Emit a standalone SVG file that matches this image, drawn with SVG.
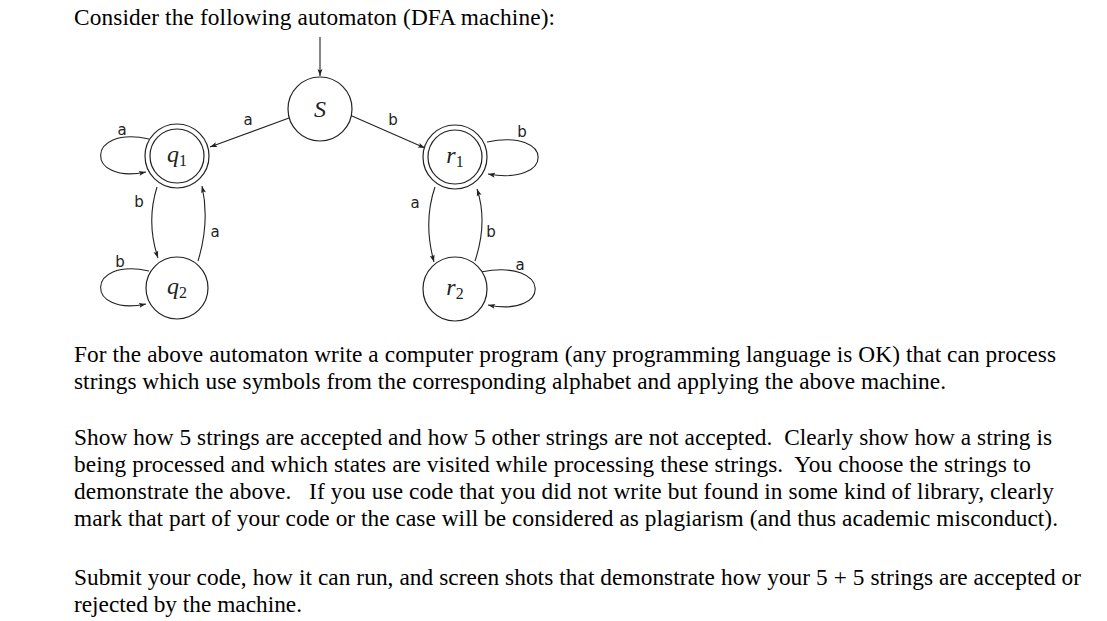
<svg xmlns="http://www.w3.org/2000/svg" width="1107" height="621" viewBox="0 0 1107 621">
<style>
.bg{fill:#fff}
.st{fill:#fff;stroke:#222;stroke-width:1.2}
.ed{fill:none;stroke:#222;stroke-width:1.1}
.lb{font-family:"DejaVu Sans",sans-serif;font-size:15px;fill:#222;text-anchor:middle}
.sn{font-family:"Liberation Serif",serif;font-style:italic;font-size:24px;fill:#222;text-anchor:middle}
.sub{font-style:normal;font-size:16px}
.tx{font-family:"Liberation Serif","Times New Roman",serif;font-size:23.3px;fill:#000;white-space:pre}
</style>
<defs>
<marker id="ah" viewBox="0 0 10 10" refX="10" refY="5" markerWidth="9" markerHeight="7" orient="auto" markerUnits="userSpaceOnUse">
<path d="M0,1.5 L10,5 L0,8.5 L2,5 Z" fill="#222"/>
</marker>
</defs>
<rect class="bg" x="0" y="0" width="1107" height="621"/>
<g id="connectors">
<line class="ed" x1="320" y1="37" x2="320" y2="76" marker-end="url(#ah)"/>
<line class="ed" x1="289" y1="118" x2="210" y2="147" marker-end="url(#ah)"/>
<line class="ed" x1="352" y1="116" x2="425" y2="148" marker-end="url(#ah)"/>
<path class="ed" d="M149,139 C85,125 85,185 146,172" marker-end="url(#ah)"/>
<path class="ed" d="M149,271 C85,257 85,317 146,304" marker-end="url(#ah)"/>
<path class="ed" d="M157,187 Q146,222 158,258" marker-end="url(#ah)"/>
<path class="ed" d="M198,261 Q210,222 202,186" marker-end="url(#ah)"/>
<path class="ed" d="M487,142 C555,128 555,186 488,174" marker-end="url(#ah)"/>
<path class="ed" d="M481,272 C552,258 552,318 488,305" marker-end="url(#ah)"/>
<path class="ed" d="M435,187 Q423,222 434,262" marker-end="url(#ah)"/>
<path class="ed" d="M475,261 Q488,222 477,189" marker-end="url(#ah)"/>
<text class="lb" x="248" y="125">a</text>
<text class="lb" x="393" y="125">b</text>
<text class="lb" x="122" y="135">a</text>
<text class="lb" x="120" y="267">b</text>
<text class="lb" x="139" y="207">b</text>
<text class="lb" x="215" y="237">a</text>
<text class="lb" x="522" y="137">b</text>
<text class="lb" x="520" y="270">a</text>
<text class="lb" x="415" y="208">a</text>
<text class="lb" x="491" y="237">b</text>
</g>
<g id="node-s">
<circle class="st" cx="320" cy="109" r="32"/>
<text class="sn" x="320" y="117">S</text>
</g>
<g id="node-q1">
<circle class="st" cx="177" cy="156" r="32"/>
<circle class="st" cx="177" cy="156" r="27"/>
<text class="sn" x="177" y="162">q<tspan class="sub" dy="4">1</tspan></text>
</g>
<g id="node-q2">
<circle class="st" cx="177" cy="288" r="31"/>
<text class="sn" x="177" y="294">q<tspan class="sub" dy="4">2</tspan></text>
</g>
<g id="node-r1">
<circle class="st" cx="455" cy="157" r="32"/>
<circle class="st" cx="455" cy="157" r="27"/>
<text class="sn" x="455" y="163">r<tspan class="sub" dy="4">1</tspan></text>
</g>
<g id="node-r2">
<circle class="st" cx="455" cy="289" r="32"/>
<text class="sn" x="455" y="295">r<tspan class="sub" dy="4">2</tspan></text>
</g>
<g id="text">
<text class="tx" x="74" y="25" textLength="481" lengthAdjust="spacing">Consider the following automaton (DFA machine):</text>
<text class="tx" x="74" y="362" textLength="982" lengthAdjust="spacing">For the above automaton write a computer program (any programming language is OK) that can process</text>
<text class="tx" x="74" y="389" textLength="872" lengthAdjust="spacing">strings which use symbols from the corresponding alphabet and applying the above machine.</text>
<text class="tx" x="74" y="445" textLength="978" lengthAdjust="spacing">Show how 5 strings are accepted and how 5 other strings are not accepted.  Clearly show how a string is</text>
<text class="tx" x="74" y="472" textLength="957" lengthAdjust="spacing">being processed and which states are visited while processing these strings.  You choose the strings to</text>
<text class="tx" x="74" y="499" textLength="980" lengthAdjust="spacing">demonstrate the above.   If you use code that you did not write but found in some kind of library, clearly</text>
<text class="tx" x="74" y="526" textLength="984" lengthAdjust="spacing">mark that part of your code or the case will be considered as plagiarism (and thus academic misconduct).</text>
<text class="tx" x="74" y="585" textLength="1007" lengthAdjust="spacing">Submit your code, how it can run, and screen shots that demonstrate how your 5 + 5 strings are accepted or</text>
<text class="tx" x="74" y="612" textLength="228" lengthAdjust="spacing">rejected by the machine.</text>
</g>
</svg>
